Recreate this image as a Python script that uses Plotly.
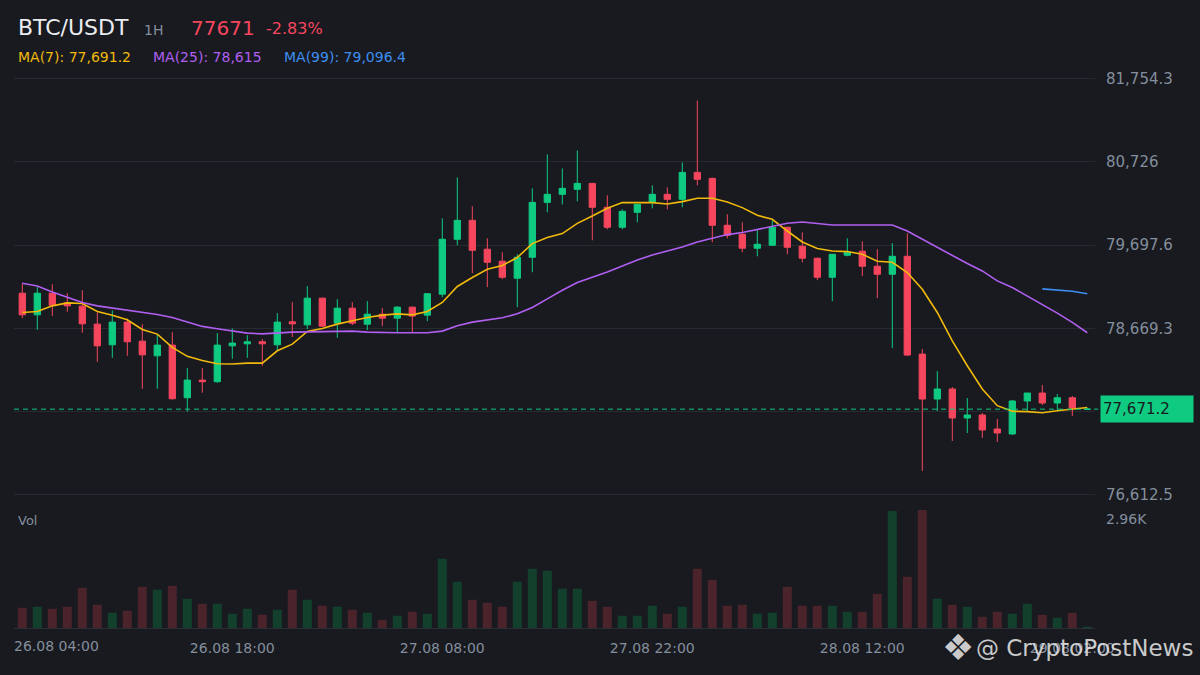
import pandas as pd
import plotly.graph_objects as go

# hourly candles, 26.08 04:00 -> 29.08 03:00
times = pd.date_range("2025-08-26 04:00", periods=72, freq="h")

open_ = [79103, 78836, 79103, 78984, 78943, 78721, 78466, 78746, 78511, 78330,
         78462, 77812, 78030, 78010, 78453, 78478, 78503, 78466, 78749, 78712,
         79042, 78733, 78918, 78721, 78844, 78795, 78931, 78832, 79091, 79769,
         80003, 79646, 79498, 79288, 79547, 80225, 80324, 80386, 80459, 80164,
         79917, 80102, 80225, 80324, 80262, 80595, 80521, 79942, 79831, 79658,
         79695, 79917, 79683, 79535, 79300, 79572, 79621, 79436, 79337, 79559,
         78351, 77796, 77920, 77562, 77599, 77426, 77365, 77772, 77870, 77747,
         77812, 77668]
high = [79226, 79177, 79214, 79103, 79140, 78865, 78890, 78791, 78721, 78598,
        78622, 78178, 78178, 78610, 78668, 78585, 78536, 78857, 78992, 79190,
        79048, 79029, 78992, 79005, 78918, 78943, 78937, 79103, 80028, 80533,
        80176, 79781, 79609, 79584, 80398, 80817, 80644, 80866, 80466, 80312,
        80139, 80200, 80435, 80410, 80718, 81483, 80530, 80077, 79979, 79892,
        80003, 79923, 79855, 79541, 79584, 79781, 79744, 79646, 79720, 79843,
        78413, 78141, 77944, 77809, 77624, 77550, 77784, 77870, 77969, 77858,
        77833, 77680]
low = [78795, 78651, 78823, 78873, 78614, 78256, 78305, 78330, 77923, 77923,
       77788, 77640, 77874, 77997, 78293, 78305, 78207, 78400, 78561, 78659,
       78690, 78552, 78709, 78647, 78696, 78622, 78622, 78758, 79054, 79695,
       79350, 79177, 79276, 78931, 79362, 80102, 80200, 80238, 79757, 79892,
       79892, 79979, 80151, 80139, 80164, 80435, 79732, 79781, 79609, 79559,
       79689, 79584, 79485, 79264, 79005, 79559, 79313, 79042, 78425, 78326,
       76908, 77648, 77278, 77377, 77315, 77266, 77352, 77648, 77722, 77661,
       77587, 77660]
close = [78836, 79103, 78955, 78947, 78725, 78453, 78746, 78503, 78342, 78462,
         77800, 78030, 78010, 78462, 78487, 78503, 78478, 78746, 78725, 79042,
         78696, 78918, 78733, 78844, 78795, 78931, 78820, 79097, 79769, 80003,
         79633, 79485, 79300, 79547, 80225, 80324, 80398, 80459, 80164, 79917,
         80114, 80200, 80324, 80262, 80595, 80509, 79942, 79818, 79658, 79707,
         79917, 79670, 79535, 79300, 79584, 79609, 79436, 79337, 79559, 78339,
         77796, 77920, 77562, 77599, 77414, 77377, 77772, 77870, 77747, 77812,
         77685, 77671.2]

ma7 = [78865, 78878, 78947, 78984, 78976, 78878, 78832, 78774, 78656, 78598,
       78434, 78323, 78273, 78231, 78228, 78240, 78240, 78392, 78474, 78631,
       78668, 78721, 78762, 78804, 78832, 78848, 78836, 78878, 78989, 79186,
       79297, 79399, 79445, 79543, 79716, 79790, 79839, 79966, 80056, 80151,
       80222, 80225, 80222, 80204, 80234, 80275, 80275, 80229, 80160, 80065,
       80016, 79871, 79736, 79654, 79625, 79617, 79584, 79498, 79485, 79358,
       79152, 78865, 78515, 78207, 77920, 77714, 77645, 77640, 77627, 77652,
       77673, 77691.2]
ma25 = [79226, 79193, 79119, 79050, 78989, 78947, 78922, 78897, 78865, 78841,
        78804, 78749, 78693, 78663, 78635, 78610, 78601, 78614, 78622, 78626,
        78631, 78635, 78635, 78622, 78614, 78614, 78614, 78614, 78635, 78700,
        78746, 78770, 78799, 78848, 78927, 79033, 79140, 79235, 79297, 79366,
        79440, 79514, 79575, 79621, 79674, 79736, 79785, 79827, 79852, 79892,
        79933, 79966, 79982, 79963, 79945, 79945, 79945, 79945, 79945, 79871,
        79769, 79667, 79563, 79469, 79378, 79255, 79173, 79070, 78968, 78857,
        78742, 78615]
ma99 = [None] * 68 + [79156, 79144, 79128, 79096.4]

volume = [508, 533, 483, 533, 1008, 583, 383, 433, 1033, 958,
          1058, 733, 608, 608, 358, 483, 333, 458, 958, 708,
          558, 533, 458, 383, 208, 308, 408, 358, 1733, 1158,
          708, 633, 533, 1158, 1483, 1433, 983, 983, 683, 533,
          308, 308, 558, 358, 533, 1483, 1208, 558, 583, 358,
          383, 1033, 558, 558, 558, 408, 408, 858, 2933, 1283,
          2958, 733, 583, 533, 283, 408, 358, 608, 333, 258,
          383, 33]

price_ticks = [76612.5, 77640.9, 78669.3, 79697.6, 80726.0, 81754.3]
price_labels = ["76,612.5", "", "78,669.3", "79,697.6", "80,726", "81,754.3"]
time_ticks = [14, 28, 42, 56, 70]
time_labels = ["26.08 18:00", "27.08 08:00", "27.08 22:00", "28.08 12:00", "29.08 02:00"]
last_price = 77671.2

BG = "#181a20"
GREEN = "#0ecb81"
RED = "#f6465d"
GRAY = "#848e9c"
GRID = "#262a31"
FONT = "DejaVu Sans"
ML, MR = 14, 105
PW = 1200 - ML - MR
H = 675


def vy(y):
    # small vertical correction for how the page comes out in the screenshot
    return (y - 5.37) / 0.9867


def fy(y):
    return 1 - vy(y) / H


vol_colors = ["#12402d" if c >= o else "#4a232b" for o, c in zip(open_, close)]

fig = go.Figure()

fig.add_trace(go.Candlestick(
    x=times, open=open_, high=high, low=low, close=close,
    increasing=dict(line=dict(color=GREEN, width=1), fillcolor=GREEN),
    decreasing=dict(line=dict(color=RED, width=1), fillcolor=RED),
    whiskerwidth=0, showlegend=False, xaxis="x", yaxis="y"))

fig.add_trace(go.Scatter(x=times, y=ma7, mode="lines",
                         line=dict(color="#f0b90b", width=1.6), showlegend=False))
fig.add_trace(go.Scatter(x=times, y=ma25, mode="lines",
                         line=dict(color="#b05ff0", width=1.6), showlegend=False))
fig.add_trace(go.Scatter(x=times, y=ma99, mode="lines",
                         line=dict(color="#3d8ef0", width=1.6), showlegend=False))

fig.add_trace(go.Bar(x=times, y=volume, marker=dict(color=vol_colors, line=dict(width=0)),
                     width=0.6 * 3600000, showlegend=False, xaxis="x", yaxis="y2"))

# dashed last price line
fig.add_shape(type="line", xref="x domain", yref="y", x0=0, x1=1.003,
              y0=last_price, y1=last_price,
              line=dict(color=GREEN, width=1, dash="5px,4px"))

t0 = times[0]
x_range = [t0 - pd.Timedelta(hours=0.553), t0 + pd.Timedelta(hours=71.513)]

fig.update_layout(
    width=1200, height=H,
    paper_bgcolor=BG, plot_bgcolor=BG,
    margin=dict(l=ML, r=MR, t=0, b=0),
    font=dict(family=FONT, color=GRAY),
    boxgap=0.4,
    xaxis=dict(
        range=x_range, anchor="y2", rangeslider=dict(visible=False),
        showgrid=False, zeroline=False, showline=True, linecolor="#2b2f36", linewidth=1,
        tickvals=[times[i] for i in time_ticks], ticktext=time_labels,
        ticks="", tickfont=dict(size=14, color=GRAY), ticklabelstandoff=7,
    ),
    yaxis=dict(
        domain=[fy(500), fy(75)], range=[76563.2, 81803.6],
        side="right", tickvals=price_ticks, ticktext=price_labels,
        showgrid=True, gridcolor=GRID, gridwidth=1, zeroline=False, showline=False,
        ticks="", tickfont=dict(size=15, color=GRAY), ticklabelstandoff=10,
    ),
    yaxis2=dict(
        domain=[fy(629.3), fy(511)], range=[0, 2960],
        side="right", showgrid=False, zeroline=False, showticklabels=False,
    ),
)


def note(text, x, y, size, color, anchor="left", **kw):
    # x, y in page pixels -> paper coords (paper = plot area inside margins)
    fig.add_annotation(text=text, xref="paper", yref="paper",
                       x=(x - ML) / PW, y=fy(y),
                       xanchor=anchor, yanchor="middle", showarrow=False,
                       font=dict(family=FONT, size=size, color=color), **kw)


# header
note("BTC/USDT", 16, 28, 22, "#eaecef")
note("1H", 142, 30, 14, GRAY)
note("77671", 189, 28, 20, RED)
note("-2.83%", 264, 29, 16, RED)
note("MA(7): 77,691.2", 16, 57, 14, "#f0b90b")
note("MA(25): 78,615", 151, 57, 14, "#b05ff0")
note("MA(99): 79,096.4", 282, 57, 14, "#3d8ef0")

# volume pane labels
note("Vol", 16, 522, 13, GRAY)
note("2.96K", 1104, 520, 14, GRAY)
note("26.08 04:00", 12, 647, 14, GRAY)

# last price tag
fig.add_annotation(text="77,671.2", xref="paper", yref="y", x=(1100 - ML) / PW, y=last_price,
                   xanchor="left", yanchor="middle", showarrow=False, align="left",
                   width=88, height=22, borderpad=2, bgcolor=GREEN,
                   font=dict(family=FONT, size=15, color=BG))

# watermark
note("❖", 958, 649, 36, "rgba(235,235,235,0.85)", anchor="center")
note("@ CryptoPostNews", 974, 649, 23, "rgba(235,235,235,0.85)")

fig.write_html("out.html", config={"displayModeBar": False},
               post_script="document.body.style.margin='0';")
